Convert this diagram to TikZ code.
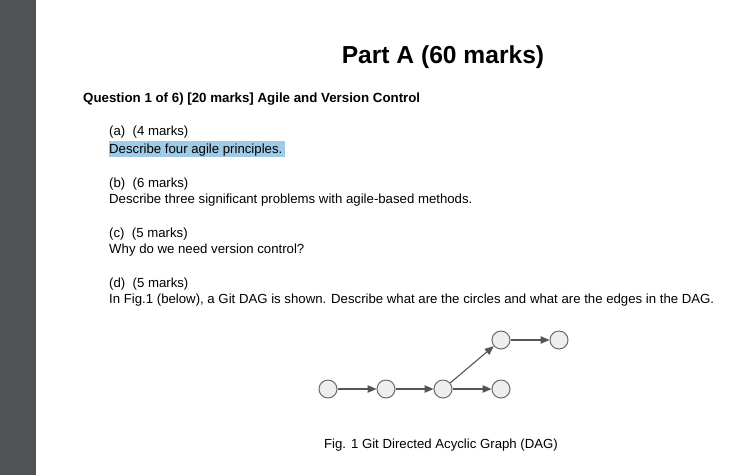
\documentclass[tikz,border=0pt]{standalone}
\usepackage{fontspec}
\setmainfont{Liberation Sans}
\usetikzlibrary{arrows.meta}
\definecolor{bar}{HTML}{4F5356}
\definecolor{hl}{HTML}{9FCBE6}
\definecolor{cfill}{HTML}{EEEEEE}
\definecolor{cline}{HTML}{6A6A6A}
\begin{document}
\begin{tikzpicture}[x=1pt,y=-1pt,
  txt/.style={anchor=base west,inner sep=0pt,font=\fontsize{13.2}{15}\selectfont},
  commit/.style={circle,draw=cline,fill=cfill,line width=1pt,minimum size=18pt,inner sep=0pt},
  edge/.style={draw=cline!80!black,line width=1.1pt,-{Triangle[length=9pt,width=7.5pt]}}]
\useasboundingbox (0,0) rectangle (752,475);
\fill[white] (0,0) rectangle (752,475);
\fill[bar] (0,0) rectangle (36,475);
\fill[hl] (109,141) rectangle (284.5,157);
\node[anchor=base,inner sep=0pt,font=\fontsize{24.6}{28}\bfseries\selectfont] (title) at (443,63) {Part A (60 marks)};
\node[txt,font=\fontsize{13.3}{15}\bfseries\selectfont] (q) at (83,102) {Question 1 of 6) [20 marks] Agile and Version Control};
\node[txt] (a1) at (109,135) {(a)\ \ (4 marks)};
\node[txt] (a2) at (109,153) {Describe four agile principles.};
\node[txt] (b1) at (109,187) {(b)\ \ (6 marks)};
\node[txt] (b2) at (109,203) {Describe three significant problems with agile-based methods.};
\node[txt] (c1) at (109,237) {(c)\ \ (5 marks)};
\node[txt] (c2) at (109,253) {Why do we need version control?};
\node[txt] (d1) at (109,287) {(d)\ \ (5 marks)};
\node[txt] (d2) at (109,303) {In Fig.1 (below), a Git DAG is shown. Describe what are the circles and what are the edges in the DAG.};
\node[commit] (n1) at (328,389) {};
\node[commit] (n2) at (386,389) {};
\node[commit] (n3) at (443,389) {};
\node[commit] (n4) at (501,389) {};
\node[commit] (n5) at (501,340) {};
\node[commit] (n6) at (559,340) {};
\draw[edge] (n1) -- (n2);
\draw[edge] (n2) -- (n3);
\draw[edge] (n3) -- (n4);
\draw[edge] (n3) -- (n5);
\draw[edge] (n5) -- (n6);
\node[anchor=base,inner sep=0pt,font=\fontsize{13.2}{15}\selectfont] (cap) at (441,448) {Fig. 1 Git Directed Acyclic Graph (DAG)};
\end{tikzpicture}
\end{document}
